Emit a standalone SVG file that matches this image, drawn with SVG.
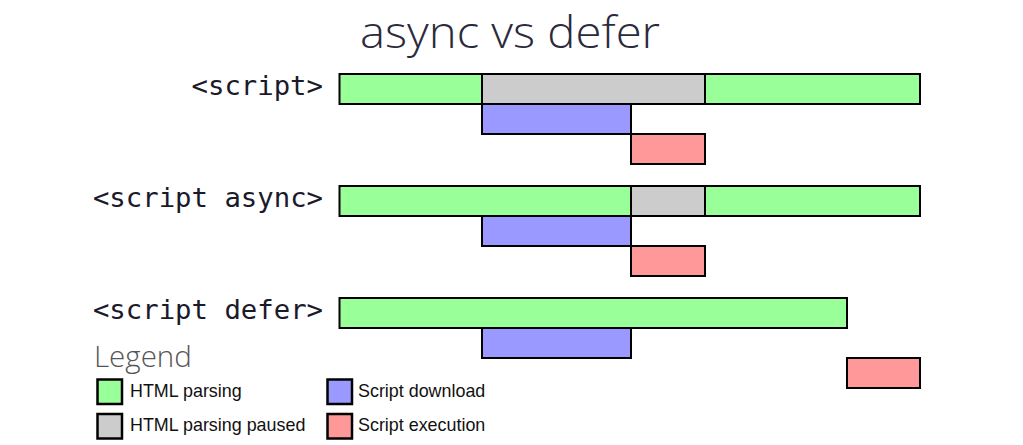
<svg xmlns="http://www.w3.org/2000/svg" width="1023" height="445" viewBox="0 0 1023 445">
<style>
.bar{stroke:#000;stroke-width:2}
.lg{stroke:#000;stroke-width:2.5}
.g{fill:#99ff99}.p{fill:#cccccc}.b{fill:#9999ff}.r{fill:#ff9999}
.lbl{font-family:"DejaVu Sans Mono","Liberation Mono",monospace;font-size:27.3px;fill:#1a1a2a;text-anchor:end}
.lt{font-family:"Liberation Sans",Arial,sans-serif;font-size:17.9px;fill:#111}
</style>
<rect width="1023" height="445" fill="#fff"/>
<text x="360" y="48" textLength="300" lengthAdjust="spacingAndGlyphs" font-family="'Open Sans',sans-serif" font-weight="300" font-size="44" fill="#2a2a3c">async vs defer</text>
<g id="row-script">
<text class="lbl" x="323" y="95">&lt;script&gt;</text>
<rect class="bar g" x="339.5" y="74" width="142.5" height="30"/>
<rect class="bar p" x="482" y="74" width="223" height="30"/>
<rect class="bar g" x="705" y="74" width="215" height="30"/>
<rect class="bar b" x="482" y="104" width="149" height="30"/>
<rect class="bar r" x="631" y="134" width="74" height="30"/>
</g>
<g id="row-async">
<text class="lbl" x="323" y="207">&lt;script async&gt;</text>
<rect class="bar g" x="339.5" y="186" width="291.5" height="30"/>
<rect class="bar p" x="631" y="186" width="74" height="30"/>
<rect class="bar g" x="705" y="186" width="215" height="30"/>
<rect class="bar b" x="482" y="216" width="149" height="30"/>
<rect class="bar r" x="631" y="246" width="74" height="30"/>
</g>
<g id="row-defer">
<text class="lbl" x="323" y="319">&lt;script defer&gt;</text>
<rect class="bar g" x="339.5" y="298" width="507.5" height="30"/>
<rect class="bar b" x="482" y="328" width="149" height="30"/>
<rect class="bar r" x="847" y="358" width="73" height="30"/>
</g>
<g id="legend">
<text x="94" y="367" font-family="'Open Sans',sans-serif" font-weight="300" font-size="29.5" fill="#555">Legend</text>
<rect class="lg g" x="97.5" y="379.5" width="24.5" height="24.5"/>
<text class="lt" x="130" y="397">HTML parsing</text>
<rect class="lg p" x="97.5" y="414" width="24.5" height="24.5"/>
<text class="lt" x="130" y="431">HTML parsing paused</text>
<rect class="lg b" x="327.5" y="379.5" width="24.5" height="24.5"/>
<text class="lt" x="358" y="397">Script download</text>
<rect class="lg r" x="327.5" y="414" width="24.5" height="24.5"/>
<text class="lt" x="358" y="431">Script execution</text>
</g>
<g id="connectors"></g>
</svg>
